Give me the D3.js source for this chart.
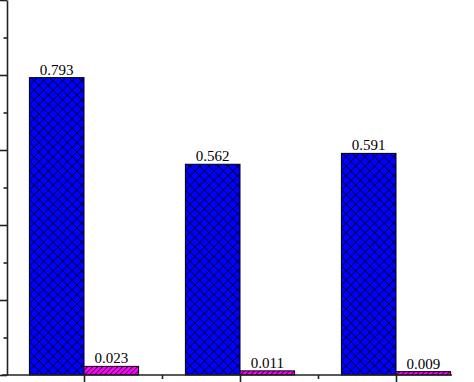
<!DOCTYPE html>
<html>
<head>
<meta charset="utf-8">
<script src="https://cdn.jsdelivr.net/npm/d3@7"></script>
<style>
  body { margin: 0; background: #fff; }
  svg { display: block; }
  .lbl { font-family: "Liberation Serif", "Times New Roman", serif; font-size: 15px; }
</style>
</head>
<body>
<svg id="chart" width="474" height="382"></svg>
<script>
// groups along x (no labels printed in the figure)
const groups = ['G1', 'G2', 'G3'];
const series = ['main', 'small'];
const mainVals = [0.793, 0.562, 0.591];
const smallVals = [0.023, 0.011, 0.009];
const majorTicks = [0, 0.2, 0.4, 0.6, 0.8, 1.0];
const minorTicks = [0.1, 0.3, 0.5, 0.7, 0.9];

const svg = d3.select('#chart');

let defs = svg.append('defs');
// blue crosshatch
let cross = defs.append('pattern')
  .attr('id', 'cross')
  .attr('patternUnits', 'userSpaceOnUse')
  .attr('width', 9.5).attr('height', 9.5);
cross.append('rect').attr('width', 9.5).attr('height', 9.5).attr('fill', '#0000ff');
cross.append('path')
  .attr('d', 'M0,0L9.5,9.5M9.5,0L0,9.5M-1,8.5L1,10.5M8.5,-1L10.5,1M-1,1L1,-1M8.5,10.5L10.5,8.5')
  .attr('stroke', '#000').attr('stroke-width', 0.9);
// magenta diagonal hatch
let hatch = defs.append('pattern')
  .attr('id', 'hatch')
  .attr('patternUnits', 'userSpaceOnUse')
  .attr('width', 5).attr('height', 5);
hatch.append('rect').attr('width', 5).attr('height', 5).attr('fill', '#ff00ff');
hatch.append('path')
  .attr('d', 'M0,5L5,0M-1,1L1,-1M4,6L6,4')
  .attr('stroke', '#000').attr('stroke-width', 1);

const x0 = d3.scaleBand().domain(groups).range([6, 474])
  .paddingInner(0.3).paddingOuter(0.15);
const x1 = d3.scaleBand().domain(series).range([0, x0.bandwidth()]);
const y = d3.scaleLinear().domain([0, 1]).range([375, 0]);

const data = groups.map((g, i) => ({g, vals: [mainVals[i], smallVals[i]]}));

let gs = svg.selectAll('.grp').data(data).enter()
  .append('g')
  .attr('transform', d => `translate(${x0(d.g)},0)`);

let bars = gs.selectAll('.bar')
  .data(d => d.vals.map((v, k) => ({s: series[k], v})))
  .enter();

bars.append('rect')
  .attr('x', d => x1(d.s))
  .attr('y', d => y(d.v))
  .attr('width', x1.bandwidth())
  .attr('height', d => y(0) - y(d.v))
  .attr('fill', d => d.s === 'main' ? 'url(#cross)' : 'url(#hatch)')
  .attr('stroke', '#000')
  .attr('stroke-width', 1);

bars.append('text')
  .classed('lbl', true)
  .attr('x', d => x1(d.s) + x1.bandwidth() / 2)
  .attr('y', d => y(d.v) - 3)
  .attr('text-anchor', 'middle')
  .text(d => d3.format('.3f')(d.v));

// y axis: major + minor ticks, no labels
let yax = svg.append('g').attr('transform', 'translate(7,0)');
yax.call(d3.axisLeft(y).tickValues(majorTicks).tickSize(7).tickSizeOuter(0).tickFormat(''));
yax.append('g').call(d3.axisLeft(y).tickValues(minorTicks).tickSize(3.5).tickSizeOuter(0).tickFormat(''))
  .select('.domain').remove();

// x axis: ticks at group centres, minor ticks between groups
let xc = d3.scaleLinear().domain([0, groups.length - 1])
  .range([x0(groups[0]) + x0.bandwidth() / 2, x0(groups[2]) + x0.bandwidth() / 2]);
let xax = svg.append('g').attr('transform', `translate(0,${y(0)})`);
xax.append('line').attr('x1', 2).attr('x2', 452).attr('stroke', '#222').attr('stroke-width', 1.6);
xax.append('g').call(d3.axisBottom(xc).tickValues([0, 1, 2]).tickSize(8).tickFormat(''))
  .select('.domain').remove();
xax.append('g').call(d3.axisBottom(xc).tickValues([0.5, 1.5]).tickSize(4).tickFormat(''))
  .select('.domain').remove();

svg.selectAll('.tick line').attr('stroke', '#222').attr('stroke-width', 1.6);
svg.selectAll('.domain').attr('stroke', '#222').attr('stroke-width', 1.6);
</script>
</body>
</html>
